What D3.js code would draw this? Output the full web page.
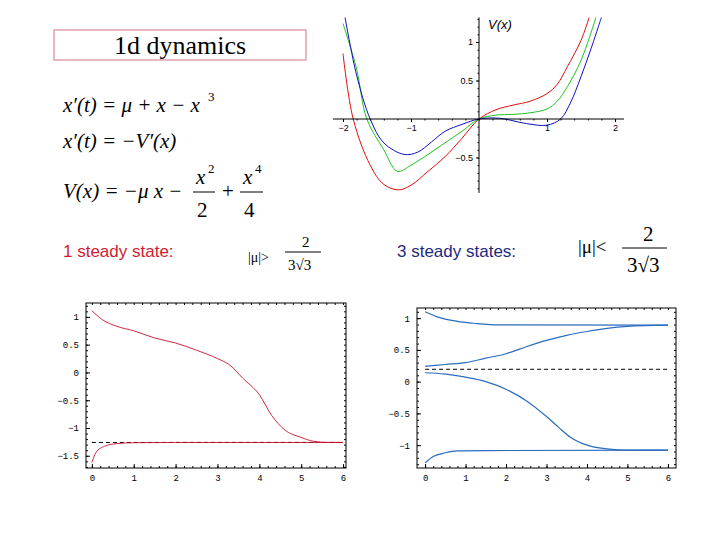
<!DOCTYPE html>
<html><head><meta charset="utf-8">
<script src="https://cdn.jsdelivr.net/npm/d3@7"></script>
<style>body{margin:0;background:#fff}</style>
</head><body><div id="chart"></div>
<script>
// potential V(x) curves
const potX_red   = [-2, -1.85, -1.6, -1.4, -1.18, -1, -0.75, -0.5, -0.25, 0, 0.25, 0.5, 0.75, 1, 1.15, 1.3, 1.5, 1.62];
const potV_red   = [0.85, 0, -0.6, -0.85, -0.92, -0.86, -0.68, -0.49, -0.25, 0, 0.12, 0.18, 0.23, 0.33, 0.45, 0.68, 1.02, 1.32];
const potX_green = [-2, -1.8, -1.65, -1.4, -1.2, -1, -0.75, -0.5, -0.25, 0, 0.25, 0.5, 0.75, 1, 1.15, 1.3, 1.5, 1.72];
const potV_green = [1.24, 0.65, 0, -0.4, -0.68, -0.6, -0.46, -0.31, -0.16, 0, 0.05, 0.06, 0.08, 0.13, 0.23, 0.42, 0.76, 1.32];
const potX_blue  = [-1.97, -1.8, -1.6, -1.4, -1.1, -0.9, -0.7, -0.5, -0.25, 0, 0.3, 0.7, 1, 1.2, 1.35, 1.5, 1.65, 1.8];
const potV_blue  = [1.32, 0.57, 0, -0.31, -0.46, -0.43, -0.3, -0.16, -0.07, 0, 0.01, -0.06, -0.08, 0, 0.22, 0.55, 0.92, 1.32];

// one steady state trajectories
const t1_a = [0, 0.25, 0.6, 1, 1.5, 2, 2.5, 3, 3.3, 3.6, 4, 4.3, 4.6, 5, 5.3, 5.6, 6];
const x1_a = [1.11, 0.95, 0.83, 0.75, 0.62, 0.53, 0.4, 0.25, 0.13, -0.1, -0.4, -0.78, -1.03, -1.17, -1.24, -1.26, -1.26];
const t1_b = [0, 0.1, 0.3, 0.6, 1, 2, 6];
const x1_b = [-1.62, -1.44, -1.33, -1.28, -1.265, -1.26, -1.26];
const fixed1 = -1.26;

// three steady states trajectories
const t3_a = [0, 0.3, 0.8, 1.2, 1.7, 6];
const x3_a = [1.1, 1.02, 0.95, 0.92, 0.895, 0.89];
const t3_b = [0, 0.5, 1, 1.5, 2, 2.5, 3, 3.5, 4, 4.5, 5, 6];
const x3_b = [0.24, 0.27, 0.3, 0.37, 0.44, 0.55, 0.65, 0.73, 0.79, 0.84, 0.87, 0.89];
const t3_c = [0, 0.5, 1, 1.5, 2, 2.5, 3, 3.3, 3.6, 4, 4.5, 5, 6];
const x3_c = [0.14, 0.12, 0.07, 0, -0.12, -0.3, -0.55, -0.72, -0.88, -1.0, -1.06, -1.08, -1.08];
const t3_d = [0, 0.2, 0.5, 0.8, 1.5, 6];
const x3_d = [-1.28, -1.18, -1.12, -1.09, -1.085, -1.08];
const fixed3 = 0.195;

const svg = d3.select('#chart').append('svg').attr('width', 720).attr('height', 540);
const zip = (a, b) => a.map((v, i) => [v, b[i]]);
const serif = '"Liberation Serif","DejaVu Serif",serif';
const sans = '"Liberation Sans",Arial,sans-serif';
const mono = '"Liberation Mono","DejaVu Sans Mono",monospace';
const fmt = d => d < 0 ? '−' + (-d) : String(d);

// title box
svg.append('rect').attr('x', 54).attr('y', 30).attr('width', 252).attr('height', 30)
  .attr('fill', 'none').attr('stroke', '#d88a98').attr('stroke-width', 1.2);
svg.append('text').attr('x', 180).attr('y', 54).attr('text-anchor', 'middle')
  .attr('font-family', serif).attr('font-size', 26).text('1d dynamics');

// equations
function txt(x, y, s, size, opts = {}) {
  return svg.append('text').attr('x', x).attr('y', y).attr('font-family', opts.font || serif)
    .attr('font-size', size).attr('fill', opts.fill || '#000')
    .attr('font-style', opts.italic ? 'italic' : null).text(s);
}
txt(63, 112, "x′(t) = μ + x − x", 21, {italic: true});
txt(208, 101, '3', 13);
txt(63, 148, "x′(t) = −V′(x)", 21, {italic: true});
txt(63, 198, 'V(x) = −μ x − ', 21, {italic: true});
txt(196, 184, 'x', 21, {italic: true}); txt(208, 173, '2', 13);
svg.append('line').attr('x1', 193).attr('x2', 215).attr('y1', 192).attr('y2', 192).attr('stroke', '#000');
txt(197, 217, '2', 21);
txt(222, 198, '+', 21);
txt(243, 184, 'x', 21, {italic: true}); txt(255, 173, '4', 13);
svg.append('line').attr('x1', 240).attr('x2', 263).attr('y1', 192).attr('y2', 192).attr('stroke', '#000');
txt(244, 217, '4', 21);

txt(63, 257, '1 steady state:', 17, {font: sans, fill: '#d01c30'});
txt(248, 262, '|μ|>', 14);
txt(302, 247, '2', 15);
svg.append('line').attr('x1', 285).attr('x2', 321).attr('y1', 252).attr('y2', 252).attr('stroke', '#000');
txt(288, 270, '3√3', 15);

txt(397, 257, '3 steady states:', 17, {font: sans, fill: '#1e2a80'});
txt(578, 253, '|μ|<', 19);
txt(643, 241, '2', 21);
svg.append('line').attr('x1', 622).attr('x2', 667).attr('y1', 248).attr('y2', 248).attr('stroke', '#000');
txt(627, 272, '3√3', 21);

// potential plot
const px = d3.scaleLinear().domain([-2, 2]).range([343, 615]);
const py = d3.scaleLinear().domain([0, 1]).range([119, 42]);
const pot = svg.append('g').attr('font-family', sans);
pot.append('clipPath').attr('id', 'pc').append('rect')
  .attr('x', 330).attr('y', py(1.32)).attr('width', 300).attr('height', py(-0.95) - py(1.32));
const potLine = d3.line().x(d => px(d[0])).y(d => py(d[1])).curve(d3.curveCatmullRom);
[[potX_red, potV_red, '#dd1010'], [potX_green, potV_green, '#20c020'], [potX_blue, potV_blue, '#1010c0']]
  .forEach(([a, b, c]) => pot.append('path').attr('clip-path', 'url(#pc)').attr('d', potLine(zip(a, b)))
    .attr('fill', 'none').attr('stroke', c).attr('stroke-width', 1));
pot.append('g').attr('transform', `translate(0,${py(0)})`)
  .call(d3.axisBottom(px).tickValues([-2, -1, 1, 2]).tickSize(3).tickFormat(fmt))
  .call(g => g.select('.domain').attr('d', `M333,0H624`))
  .call(g => g.selectAll('text').attr('font-size', 9).attr('font-family', sans));
pot.append('g').attr('transform', `translate(0,${py(0)})`)
  .call(d3.axisBottom(px).ticks(20).tickSize(1.5).tickFormat(''))
  .call(g => g.select('.domain').remove());
pot.append('g').attr('transform', `translate(${px(0)},0)`)
  .call(d3.axisLeft(py).tickValues([1, 0.5, -0.5]).tickSize(3).tickFormat(fmt))
  .call(g => g.select('.domain').attr('d', `M0,${py(1.32)}V${py(-0.96)}`))
  .call(g => g.selectAll('text').attr('font-size', 9).attr('font-family', sans));
pot.append('g').attr('transform', `translate(${px(0)},0)`)
  .call(d3.axisLeft(py).tickValues(d3.range(-9, 14).map(d => d / 10)).tickSize(1.5).tickFormat(''))
  .call(g => g.select('.domain').remove());
pot.append('text').attr('x', 488).attr('y', 29).attr('font-size', 13).attr('font-style', 'italic').text('V(x)');

// framed trajectory plots
function framePlot(box, xd, yd, yTicks, series, fixedY, color, width) {
  const g = svg.append('g').attr('font-family', mono);
  const x = d3.scaleLinear().domain(xd).range([box.x0, box.x1]);
  const y = d3.scaleLinear().domain(yd).range([box.y1, box.y0]);
  g.append('line').attr('x1', x(0)).attr('x2', x(6)).attr('y1', y(fixedY)).attr('y2', y(fixedY))
    .attr('stroke', '#000').attr('stroke-dasharray', '4,3').attr('stroke-width', 1);
  const line = d3.line().x(d => x(d[0])).y(d => y(d[1])).curve(d3.curveMonotoneX);
  series.forEach(s => g.append('path').attr('d', line(s)).attr('fill', 'none')
    .attr('stroke', color).attr('stroke-width', width));
  g.append('rect').attr('x', box.x0).attr('y', box.y0).attr('width', box.x1 - box.x0)
    .attr('height', box.y1 - box.y0).attr('fill', 'none').attr('stroke', '#000').attr('stroke-width', 1);
  const st = g => g.selectAll('text').attr('font-size', 9).attr('font-family', mono);
  g.append('g').attr('transform', `translate(0,${box.y1})`)
    .call(d3.axisBottom(x).tickValues(d3.range(0, 7)).tickSize(-4).tickPadding(7).tickFormat(fmt)).call(st)
    .call(g => g.select('.domain').remove());
  g.append('g').attr('transform', `translate(0,${box.y1})`)
    .call(d3.axisBottom(x).tickValues(d3.range(0, 6.01, 0.2)).tickSize(-2).tickFormat(''))
    .call(g => g.select('.domain').remove());
  g.append('g').attr('transform', `translate(0,${box.y0})`)
    .call(d3.axisTop(x).tickValues(d3.range(0, 6.01, 0.2)).tickSize(-2).tickFormat(''))
    .call(g => g.select('.domain').remove());
  g.append('g').attr('transform', `translate(${box.x0},0)`)
    .call(d3.axisLeft(y).tickValues(yTicks).tickSize(-4).tickPadding(7).tickFormat(fmt)).call(st)
    .call(g => g.select('.domain').remove());
  const minor = d3.range(Math.ceil(yd[0] * 10), Math.floor(yd[1] * 10) + 1).map(d => d / 10);
  g.append('g').attr('transform', `translate(${box.x0},0)`)
    .call(d3.axisLeft(y).tickValues(minor).tickSize(-2).tickFormat(''))
    .call(g => g.select('.domain').remove());
  g.append('g').attr('transform', `translate(${box.x1},0)`)
    .call(d3.axisRight(y).tickValues(minor).tickSize(-2).tickFormat(''))
    .call(g => g.select('.domain').remove());
}

framePlot({x0: 86, x1: 346, y0: 303, y1: 468}, [-0.14, 6.07], [-1.72, 1.25],
  [1, 0.5, 0, -0.5, -1, -1.5], [zip(t1_a, x1_a), zip(t1_b, x1_b)], fixed1, '#c8102e', 0.9);
framePlot({x0: 417, x1: 676, y0: 308, y1: 468}, [-0.2, 6.2], [-1.36, 1.16],
  [1, 0.5, 0, -0.5, -1], [zip(t3_a, x3_a), zip(t3_b, x3_b), zip(t3_c, x3_c), zip(t3_d, x3_d)], fixed3, '#2a6cbf', 1.2);
</script></body></html>
